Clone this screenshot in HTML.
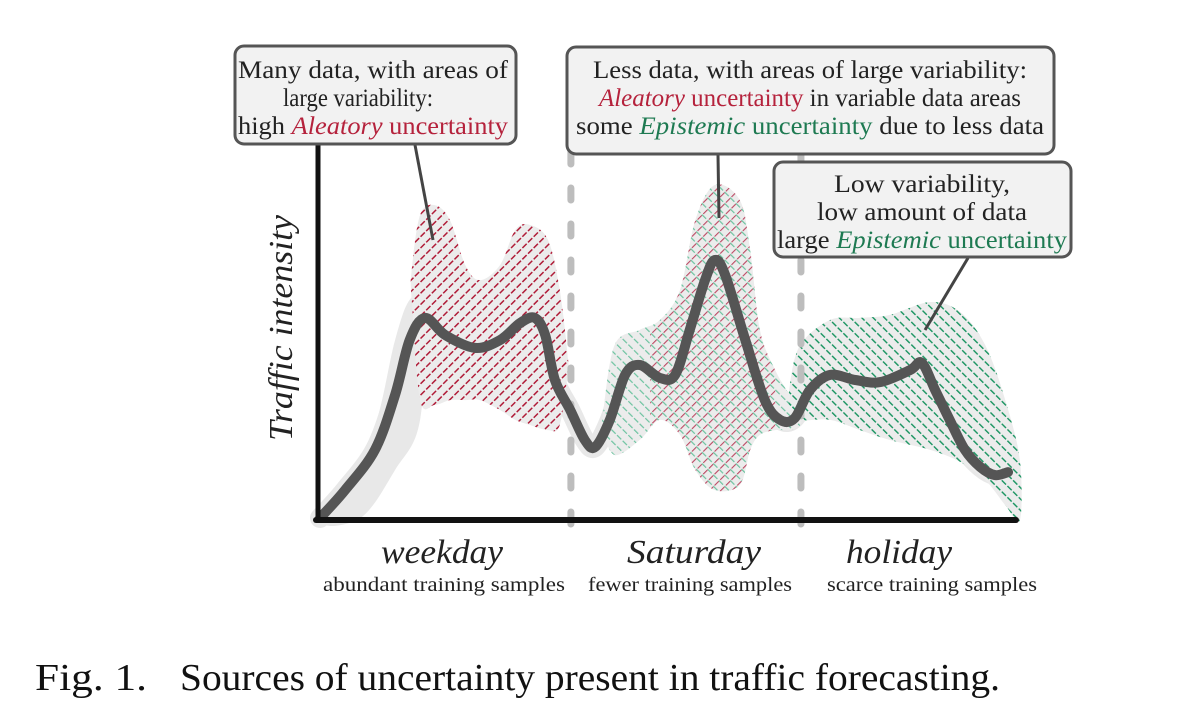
<!DOCTYPE html>
<html><head><meta charset="utf-8"><style>
html,body{margin:0;padding:0;background:#fff;}
svg{display:block;font-family:"Liberation Serif",serif;}
</style></head><body>
<svg id="chart" width="1200" height="726" viewBox="0 0 1200 726">
<defs>
<pattern id="redHatch" patternUnits="userSpaceOnUse" width="8" height="8" patternTransform="rotate(45)">
<line x1="0" y1="0" x2="0" y2="8" stroke="#b01c38" stroke-width="3" stroke-dasharray="6 2"/>
</pattern>
<pattern id="greenHatch" patternUnits="userSpaceOnUse" width="8" height="8" patternTransform="rotate(-45)">
<line x1="0" y1="0" x2="0" y2="8" stroke="#17935f" stroke-width="2.8" stroke-dasharray="6 2"/>
</pattern>
<pattern id="lgreenHatch" patternUnits="userSpaceOnUse" width="8" height="8" patternTransform="rotate(-45)">
<line x1="0" y1="0" x2="0" y2="8" stroke="#6cc3a0" stroke-width="2.4" stroke-dasharray="6 2"/>
</pattern>
<pattern id="lredHatch" patternUnits="userSpaceOnUse" width="8" height="8" patternTransform="rotate(45)">
<line x1="0" y1="0" x2="0" y2="8" stroke="#bb4862" stroke-width="2.2" stroke-dasharray="6 2"/>
</pattern>
<clipPath id="satRedClip"><rect id="satRedRect" x="0" y="0" width="0" height="726"/></clipPath>
</defs>
<g id="layer"></g>

<line x1="318" y1="145" x2="318" y2="521" stroke="#111" stroke-width="5"/>
<line x1="316" y1="520" x2="1016" y2="520" stroke="#111" stroke-width="6" stroke-linecap="round"/>

<text transform="translate(292,328) rotate(-90)" text-anchor="middle" font-size="34" font-style="italic" fill="#222" textLength="226" lengthAdjust="spacingAndGlyphs">Traffic intensity</text>

<text x="442" y="563" text-anchor="middle" font-size="34" font-style="italic" fill="#222" textLength="122" lengthAdjust="spacingAndGlyphs">weekday</text>
<text x="694" y="563" text-anchor="middle" font-size="34" font-style="italic" fill="#222" textLength="134" lengthAdjust="spacingAndGlyphs">Saturday</text>
<text x="899" y="563" text-anchor="middle" font-size="34" font-style="italic" fill="#222" textLength="106" lengthAdjust="spacingAndGlyphs">holiday</text>
<text x="444" y="591" text-anchor="middle" font-size="20" fill="#222" textLength="242" lengthAdjust="spacingAndGlyphs">abundant training samples</text>
<text x="690" y="591" text-anchor="middle" font-size="20" fill="#222" textLength="204" lengthAdjust="spacingAndGlyphs">fewer training samples</text>
<text x="932" y="591" text-anchor="middle" font-size="20" fill="#222" textLength="210" lengthAdjust="spacingAndGlyphs">scarce training samples</text>

<g>
<line x1="415" y1="145" x2="433" y2="240" stroke="#444" stroke-width="3"/>
<rect x="235" y="46" width="281" height="98" rx="9" fill="#f2f2f2" stroke="#555" stroke-width="3"/>
<text x="373" y="78" text-anchor="middle" font-size="25" fill="#222" textLength="270" lengthAdjust="spacingAndGlyphs">Many data, with areas of</text>
<text x="358" y="106" text-anchor="middle" font-size="25" fill="#222" textLength="150" lengthAdjust="spacingAndGlyphs">large variability:</text>
<text x="238" y="134" font-size="25" fill="#222" textLength="270" lengthAdjust="spacingAndGlyphs">high <tspan fill="#b5223c" font-style="italic">Aleatory</tspan> <tspan fill="#b5223c">uncertainty</tspan></text>
</g>
<g>
<line x1="718" y1="155" x2="719" y2="218" stroke="#444" stroke-width="3"/>
<rect x="567" y="47" width="487" height="107" rx="9" fill="#f2f2f2" stroke="#555" stroke-width="3"/>
<text x="810" y="78" text-anchor="middle" font-size="25" fill="#222" textLength="434" lengthAdjust="spacingAndGlyphs">Less data, with areas of large variability:</text>
<text x="810" y="106" text-anchor="middle" font-size="25" fill="#222" textLength="422" lengthAdjust="spacingAndGlyphs"><tspan fill="#b5223c" font-style="italic">Aleatory</tspan> <tspan fill="#b5223c">uncertainty</tspan> in variable data areas</text>
<text x="810" y="134" text-anchor="middle" font-size="25" fill="#222" textLength="468" lengthAdjust="spacingAndGlyphs">some <tspan fill="#1e7a52" font-style="italic">Epistemic</tspan> <tspan fill="#1e7a52">uncertainty</tspan> due to less data</text>
</g>
<g>
<line x1="968" y1="258" x2="925" y2="330" stroke="#444" stroke-width="3"/>
<rect x="774" y="162" width="297" height="95" rx="9" fill="#f2f2f2" stroke="#555" stroke-width="3"/>
<text x="922" y="192" text-anchor="middle" font-size="25" fill="#222" textLength="176" lengthAdjust="spacingAndGlyphs">Low variability,</text>
<text x="922" y="220" text-anchor="middle" font-size="25" fill="#222" textLength="210" lengthAdjust="spacingAndGlyphs">low amount of data</text>
<text x="922" y="248" text-anchor="middle" font-size="25" fill="#222" textLength="290" lengthAdjust="spacingAndGlyphs">large <tspan fill="#1e7a52" font-style="italic">Epistemic</tspan> <tspan fill="#1e7a52">uncertainty</tspan></text>
</g>

<text x="35" y="690" font-size="38" fill="#111"><tspan textLength="112" lengthAdjust="spacingAndGlyphs">Fig. 1.</tspan><tspan x="180" textLength="820" lengthAdjust="spacingAndGlyphs">Sources of uncertainty present in traffic forecasting.</tspan></text>
</svg>
<script>
const lineX = [0,3.6,7.9,10.8,12.9,15.1,18,22.3,25.9,28.8,30.9,32.4,33.8,36,38.1,39.6,41.7,43.9,46,48.9,51.1,53.2,55.4,56.8,58.3,61.2,64,66.2,68.3,70.5,73.4,77,80.6,84.9,86.6,88.5,90.6,92.8,95,97.1,99];
const lineY = [0,9.3,22.7,41,59.3,66.7,61,56.7,59.3,65,66.7,61,46,36,26,23.7,32.7,47.7,51,46.7,47.7,62.7,79.3,86,81,59.3,39.3,32.7,33.3,42.7,47.7,46,45.3,49.3,51.7,42.7,32.7,22.7,17,14.3,15.3];
const greyX = [0,5.8,10.8,14.4,15.1,12.9,10.8,7.2];
const greyY = [0,0,16,32.7,72.7,72.7,59.3,26];
const wkX = [13.2,14.4,16.5,18.7,20.9,23,25.9,28.1,30.2,32.8,34.5,35.7];
const wkUp = [82.7,101,104.3,99.3,84.3,79.3,84.3,96,97.7,92.7,76,52.7];
const wkLo = [72.7,39.3,37.7,39.3,39.3,39.3,36,32.7,31,29.3,31,49.3];
const satX = [40.7,42.4,46,48.9,51.8,54,56.8,60.4,61.9,63.3,65.5,67.6,69.1];
const satUp = [34.3,57.7,62.7,66,76,99.3,111,106,89.3,62.7,49.3,41,36];
const satLo = [29.3,21,26,32.7,27.7,16,9.3,11,22.7,27.7,29.3,29.3,31];
const satRedRange = [47.5,65.5];
const holX = [67.6,69.1,73.4,77.7,82,87.8,92.1,95.7,98.6,100.7];
const holUp = [44.3,57.7,66,66.7,67.7,72,68.7,57.7,39.3,19.3];
const holLo = [36,32.7,32.7,29.3,26,22.7,18.7,12.7,4.3,-0.7];
const dividers = [36.1,69.2];

const sx = v => 320 + v * 6.95;
const sy = v => 518 - v * 3;
const NS = 'http://www.w3.org/2000/svg';
const layer = document.getElementById('layer');

function smooth(pts, closed) {
  const n = pts.length; let d = 'M' + pts[0][0] + ',' + pts[0][1];
  const get = i => closed ? pts[(i + n) % n] : pts[Math.max(0, Math.min(n - 1, i))];
  const m = closed ? n : n - 1;
  for (let i = 0; i < m; i++) {
    const p0 = get(i - 1), p1 = get(i), p2 = get(i + 1), p3 = get(i + 2);
    const c1 = [p1[0] + (p2[0] - p0[0]) / 6, p1[1] + (p2[1] - p0[1]) / 6];
    const c2 = [p2[0] - (p3[0] - p1[0]) / 6, p2[1] - (p3[1] - p1[1]) / 6];
    d += 'C' + c1.join(',') + ' ' + c2.join(',') + ' ' + p2.join(',');
  }
  return closed ? d + 'Z' : d;
}
function band(xs, up, lo) {
  const pts = [];
  xs.forEach((x, i) => pts.push([sx(x), sy(up[i])]));
  for (let i = xs.length - 1; i >= 0; i--) pts.push([sx(xs[i]), sy(lo[i])]);
  return smooth(pts, true);
}
function addPath(d, fill, name, extra) {
  const p = document.createElementNS(NS, 'path');
  p.setAttribute('d', d); p.setAttribute('fill', fill);
  if (extra) for (const k in extra) p.setAttribute(k, extra[k]);
  
  
  layer.appendChild(p); return p;
}
const linePts = lineX.map((x, i) => [sx(x), sy(lineY[i])]);
const lineD = smooth(linePts, false);

addPath(lineD, 'none', 'line-halo', {stroke: '#e8e8e8', 'stroke-width': '20', 'stroke-linejoin': 'round', 'stroke-linecap': 'round'});
addPath(smooth(greyX.map((x, i) => [sx(x), sy(greyY[i])]), true), '#e8e8e8', 'weekday-grey-band');
const wk = band(wkX, wkUp, wkLo), sat = band(satX, satUp, satLo), hol = band(holX, holUp, holLo);
addPath(wk, '#ececec', 'weekday-band-bg');
addPath(sat, '#ececec', 'saturday-band-bg');
addPath(hol, '#ececec', 'holiday-band-bg');
addPath(wk, 'url(#redHatch)', 'weekday-aleatory-hatch');
addPath(sat, 'url(#lgreenHatch)', 'saturday-epistemic-hatch');
const r = document.getElementById('satRedRect');
r.setAttribute('x', sx(satRedRange[0])); r.setAttribute('width', sx(satRedRange[1]) - sx(satRedRange[0]));
addPath(sat, 'url(#lredHatch)', 'saturday-aleatory-hatch', {'clip-path': 'url(#satRedClip)'});
addPath(hol, 'url(#greenHatch)', 'holiday-epistemic-hatch');
dividers.forEach(v => {
  const l = document.createElementNS(NS, 'line');
  l.setAttribute('x1', sx(v)); l.setAttribute('x2', sx(v));
  l.setAttribute('y1', 152); l.setAttribute('y2', 530);
  l.setAttribute('stroke', '#bdbdbd'); l.setAttribute('stroke-width', '7');
  l.setAttribute('stroke-linecap', 'round'); l.setAttribute('stroke-dasharray', '12 24');
  
  
  layer.appendChild(l);
});
addPath(lineD, 'none', 'traffic-line', {stroke: '#555', 'stroke-width': '10', 'stroke-linejoin': 'round', 'stroke-linecap': 'round'});
</script>
</body></html>
